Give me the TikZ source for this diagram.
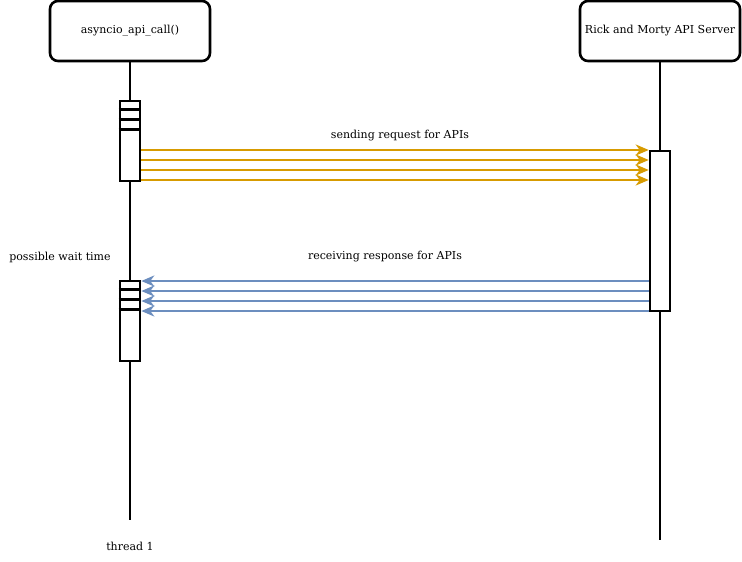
\documentclass[tikz,border=0pt]{standalone}
\usepackage{fontspec}
\setmainfont{DejaVu Serif}
\usetikzlibrary{arrows.meta}

\begin{document}
\begin{tikzpicture}[x=1pt,y=-1pt, font=\fontsize{11}{13}\selectfont,
    headbox/.style={draw,line width=2.6pt,rounded corners=8pt,minimum width=160pt,minimum height=60pt,inner sep=0pt},
    actbox/.style={draw,fill=white,line width=2.6pt,minimum width=20pt,inner sep=0pt},
    reqline/.style={draw=reqcol,line width=2.8pt,-{Stealth[length=13pt,width=11pt,inset=4pt]}},
    resline/.style={draw=rescol,line width=2.8pt,-{Stealth[length=13pt,width=11pt,inset=4pt]}}]
    \definecolor{reqcol}{HTML}{D79B00}
    \definecolor{rescol}{HTML}{6C8EBF}
    \useasboundingbox (0,0) rectangle (742,562);

    \node[headbox] (caller) at (130,31) {asyncio\_api\_call()};
    \node[headbox] (server) at (660,31) {Rick and Morty API Server};
    \coordinate (callerend) at (130,520);
    \coordinate (serverend) at (660,540);

    \draw[line width=2.6pt] (caller) -- (callerend);
    \draw[line width=2.6pt] (server) -- (serverend);

    \node[actbox, minimum height=80pt] (send) at (130,141) {};
    \node[actbox, minimum height=160pt] (serve) at (660,231) {};
    \node[actbox, minimum height=80pt] (recv) at (130,321) {};

    \draw[line width=2.6pt] ([yshift=-10pt]send.north west) -- ([yshift=-10pt]send.north east);
    \draw[line width=2.6pt] ([yshift=-20pt]send.north west) -- ([yshift=-20pt]send.north east);
    \draw[line width=2.6pt] ([yshift=-30pt]send.north west) -- ([yshift=-30pt]send.north east);
    \draw[line width=2.6pt] ([yshift=-10pt]recv.north west) -- ([yshift=-10pt]recv.north east);
    \draw[line width=2.6pt] ([yshift=-20pt]recv.north west) -- ([yshift=-20pt]recv.north east);
    \draw[line width=2.6pt] ([yshift=-30pt]recv.north west) -- ([yshift=-30pt]recv.north east);

    \draw[reqline] (send.east |- 0,150) -- (serve.west |- 0,150);
    \draw[reqline] (send.east |- 0,160) -- (serve.west |- 0,160);
    \draw[reqline] (send.east |- 0,170) -- (serve.west |- 0,170);
    \draw[reqline] (send.east |- 0,180) -- (serve.west |- 0,180);

    \draw[resline] (serve.west |- 0,281) -- (recv.east |- 0,281);
    \draw[resline] (serve.west |- 0,291) -- (recv.east |- 0,291);
    \draw[resline] (serve.west |- 0,301) -- (recv.east |- 0,301);
    \draw[resline] (serve.west |- 0,311) -- (recv.east |- 0,311);

    \node (reqlabel) at (400,136) {sending request for APIs};
    \node (reslabel) at (385,257) {receiving response for APIs};
    \node (waitlabel) at (60,257) {possible wait time};
    \node (threadlabel) at (130,546) {thread 1};
\end{tikzpicture}
\end{document}
